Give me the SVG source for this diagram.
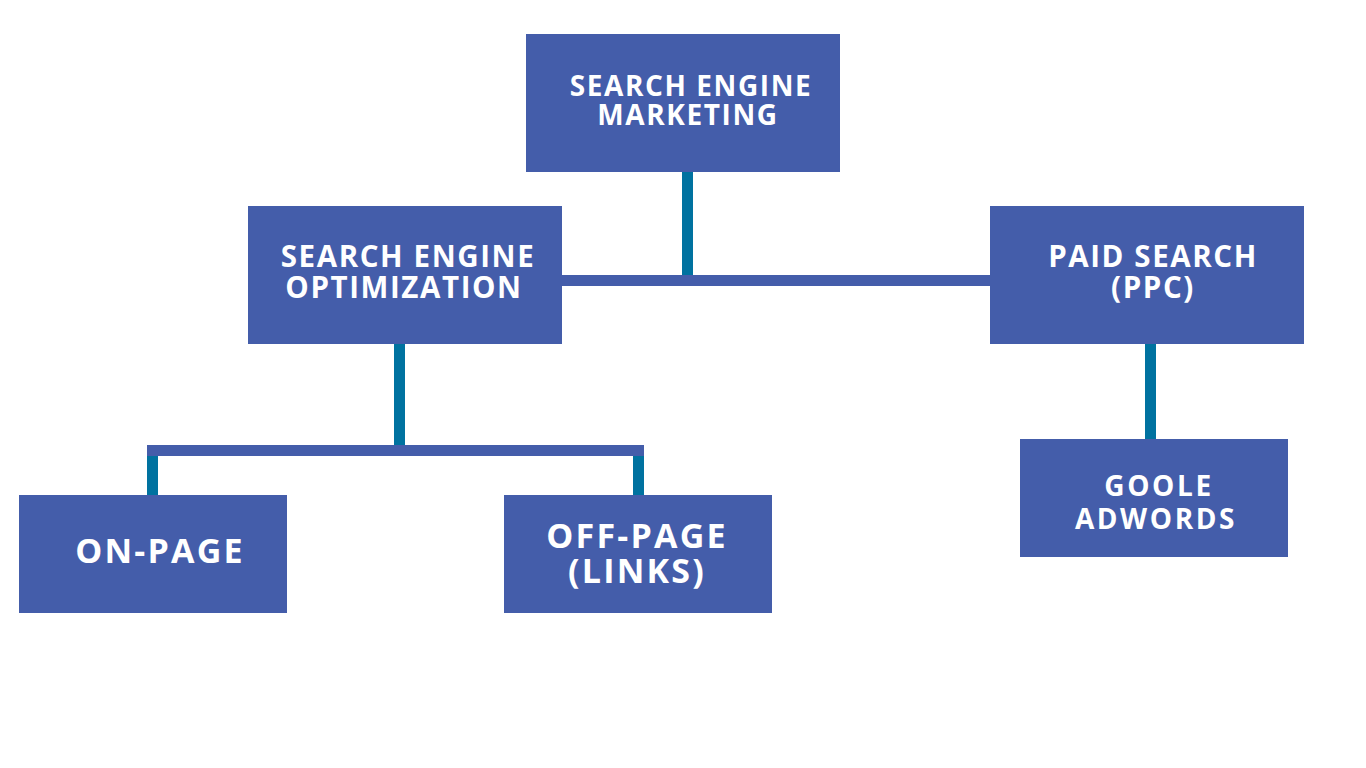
<svg xmlns="http://www.w3.org/2000/svg" width="1366" height="768" viewBox="0 0 1366 768">
<style>
.box{fill:#445DAA}
.bar{fill:#445DAA}
.stem{fill:#0072A0}
.t{font-family:"Open Sans","Liberation Sans",sans-serif;font-weight:bold;fill:#FFFFFF;text-anchor:middle}
.s28{font-size:28px;letter-spacing:1.6px}
.s28w{font-size:28px;letter-spacing:2.6px}
.s29{font-size:29.5px;letter-spacing:1.6px}
.s34{font-size:34px;letter-spacing:2.2px}
</style>
<rect width="1366" height="768" fill="#FFFFFF"/>
<g id="connectors">
<rect class="stem" x="682" y="172" width="11" height="104"/>
<rect class="bar" x="562" y="275" width="428" height="11"/>
<rect class="stem" x="394" y="344" width="11" height="102"/>
<rect class="bar" x="147" y="445" width="497" height="11"/>
<rect class="stem" x="147" y="456" width="11" height="39"/>
<rect class="stem" x="633" y="456" width="11" height="39"/>
<rect class="stem" x="1145" y="344" width="11" height="95"/>
</g>
<g id="sem">
<rect class="box" x="526" y="34" width="314" height="138"/>
<text class="t s28" x="691" y="96">SEARCH ENGINE</text>
<text class="t s28" x="688" y="125">MARKETING</text>
</g>
<g id="seo">
<rect class="box" x="248" y="206" width="314" height="138"/>
<text class="t s29" x="408" y="267">SEARCH ENGINE</text>
<text class="t s29" x="404" y="298">OPTIMIZATION</text>
</g>
<g id="ppc">
<rect class="box" x="990" y="206" width="314" height="138"/>
<text class="t s29" x="1153" y="267">PAID SEARCH</text>
<text class="t s29" x="1153" y="298">(PPC)</text>
</g>
<g id="onpage">
<rect class="box" x="19" y="495" width="268" height="118"/>
<text class="t s34" x="160" y="563">ON-PAGE</text>
</g>
<g id="offpage">
<rect class="box" x="504" y="495" width="268" height="118"/>
<text class="t s34" x="637" y="548">OFF-PAGE</text>
<text class="t s34" x="637" y="583">(LINKS)</text>
</g>
<g id="adwords">
<rect class="box" x="1020" y="439" width="268" height="118"/>
<text class="t s28w" x="1159" y="496">GOOLE</text>
<text class="t s28w" x="1156" y="529">ADWORDS</text>
</g>
</svg>
